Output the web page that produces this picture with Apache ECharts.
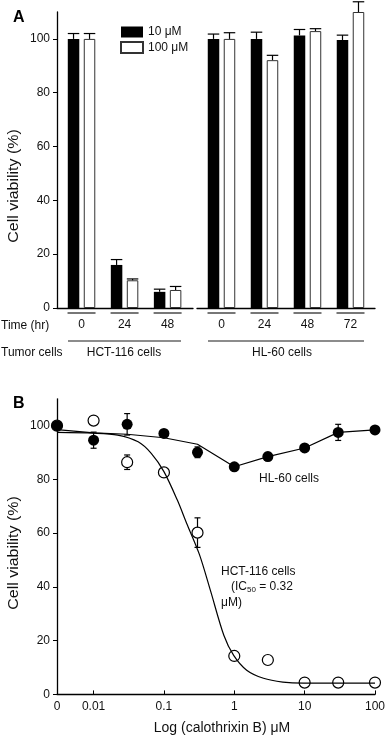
<!DOCTYPE html>
<html>
<head>
<meta charset="utf-8">
<script src="https://cdn.jsdelivr.net/npm/echarts@6/dist/echarts.min.js"></script>
<style>
  html, body { margin: 0; padding: 0; background: #fff; }
  #chart { width: 388px; height: 737px; }
</style>
</head>
<body>
<div id="chart"></div>
<script>
// panel A: viability after exposure (bars)
const hctTimes = ['0', '24', '48']
const hlTimes = ['0', '24', '48', '72']
const hct10 = [100, 16, 6]
const hct10Err = [2, 2, 1]
const hct100 = [100, 10.3, 6.7]
const hct100Err = [2, 0.5, 1.3]
const hl10 = [100, 100, 101.3, 99.6]
const hl10Err = [1.8, 2.5, 2.2, 1.8]
const hl100 = [100, 92.1, 102.9, 110]
const hl100Err = [2.3, 1.8, 0.9, 3.8]

// panel B: dose response, doses in µM
const doses = [0, 0.01, 0.03, 0.1, 0.3, 1, 3, 10, 30, 100]
const hlViab = [100, 94.6, 100.5, 97.1, 90.1, 84.7, 88.5, 91.7, 97.5, 98.4]
const hlErr = [0, 3, 4, 1, 2, 0, 1.5, 1, 3, 0]
const hctViab = [100, 101.9, 86.4, 82.6, 60.2, 14.3, 12.8, 4.4, 4.4, 4.4]
const hctErr = [0, 0, 2.7, 0, 5.5, 0, 0, 0, 0, 0]
const hlFit = [98.5, 97.3, 96.8, 95.5, 93.1, 84.7, 88.5, 91.7, 97.5, 98.4]
const hctFitDoses = [0, 0.01, 0.022, 0.043, 0.066, 0.1, 0.155, 0.21, 0.32, 0.46, 0.71, 0.98, 1.5, 2.6, 4.9, 9.5, 100]
const hctFit = [97.5, 97.2, 96.5, 94.0, 89.7, 82.9, 72.3, 63.7, 52, 38.5, 22, 14.5, 9, 6, 4.6, 4.2, 4.2]
const doseTickLabels = ['0', '0.01', '0.1', '1', '10', '100']

const FONT = '"Liberation Sans", Arial, Helvetica, sans-serif'
const INK = '#111'
const zeroPos = -2.52 // where the zero dose sits on the log axis
const tickPos = [zeroPos, -2, -1, 0, 1, 2]
const lx = (c) => (c > 0 ? Math.log10(c) : zeroPos)

const barW = 11.5
const pairShift = 8

const chart = echarts.init(document.getElementById('chart'), null, { renderer: 'canvas' })

const errLine = (l) => ({
  type: 'line',
  shape: { x1: l[0], y1: l[1], x2: l[2], y2: l[3] },
  style: { stroke: '#000', lineWidth: 1.2 },
})

function errBars(xIdx, yIdx, xs, vals, errs, dx, capW, both) {
  return {
    type: 'custom',
    xAxisIndex: xIdx,
    yAxisIndex: yIdx,
    clip: false,
    silent: true,
    z: 3,
    data: vals.map((v, i) => [xs[i], v, errs[i]]).filter((d) => d[2] > 0),
    renderItem: (params, api) => {
      const x = api.value(0)
      const y = api.value(1)
      const e = api.value(2)
      const top = api.coord([x, y + e])
      const bot = api.coord([x, both ? y - e : y])
      const cx = top[0] + dx
      const lines = [
        [cx, top[1], cx, bot[1]],
        [cx - capW / 2, top[1], cx + capW / 2, top[1]],
      ]
      if (both) lines.push([cx - capW / 2, bot[1], cx + capW / 2, bot[1]])
      return { type: 'group', children: lines.map(errLine) }
    },
  }
}

const timeAxis = (grid, times, max) => ({
  type: 'value',
  gridIndex: grid,
  min: -0.57,
  max,
  splitLine: { show: false },
  axisTick: { show: false },
  axisLine: { onZero: false, lineStyle: { color: '#000', width: 1.3 } },
  axisLabel: {
    customValues: times.map((t, i) => i),
    margin: 4,
    formatter: (v) => `{u|}\n{t|${times[Math.round(v)]}}`,
    rich: {
      u: { width: 28, height: 2, lineHeight: 2, backgroundColor: '#777' },
      t: { fontSize: 12, lineHeight: 22, color: INK, fontFamily: FONT },
    },
  },
})

const yTicks = [0, 20, 40, 60, 80, 100]
const viabAxis = (grid, show) => ({
  type: 'value',
  gridIndex: grid,
  show,
  min: 0,
  max: 110,
  splitLine: { show: false },
  axisLine: { show: true, onZero: false, lineStyle: { color: '#000', width: 1.3 } },
  axisTick: { show: true, length: 4, customValues: yTicks, lineStyle: { color: '#000' } },
  axisLabel: { customValues: yTicks, margin: 7, fontSize: 12, color: INK, fontFamily: FONT },
})

const bar = (name, xIdx, vals, style) => ({
  type: 'bar',
  name,
  xAxisIndex: xIdx,
  yAxisIndex: xIdx,
  data: vals.map((v, i) => [i, v]),
  barWidth: barW,
  barGap: '39%',
  itemStyle: style,
  z: 2,
})
const black = { color: '#000' }
const white = { color: '#fff', borderColor: '#333', borderWidth: 1 }

const plainText = (text, x, y, extra) => ({
  type: 'text',
  x,
  y,
  silent: true,
  style: Object.assign({ text, fill: INK, fontSize: 12, fontFamily: FONT, verticalAlign: 'middle' }, extra),
})
const hline = (x1, x2, y) => ({
  type: 'line',
  silent: true,
  shape: { x1, y1: y, x2, y2: y },
  style: { stroke: '#666', lineWidth: 1.5 },
})
const vTitle = (x, y) => ({
  type: 'text',
  x,
  y,
  rotation: Math.PI / 2,
  scaleX: 1.14,
  silent: true,
  style: { text: 'Cell viability (%)', fill: INK, fontSize: 14, fontFamily: FONT, align: 'center', verticalAlign: 'middle' },
})

const option = {
  animation: false,
  backgroundColor: '#fff',
  textStyle: { fontFamily: FONT },
  legend: {
    data: ['10 μM', '100 μM'],
    orient: 'vertical',
    left: 115,
    top: 21,
    icon: 'rect',
    itemWidth: 22,
    itemHeight: 11,
    itemGap: 3,
    textStyle: { fontSize: 12, color: INK, fontFamily: FONT },
  },
  grid: [
    { left: 57, top: 12, width: 136, height: 296 },
    { left: 197, top: 12, width: 178, height: 296 },
    { left: 57, top: 398.8, width: 321.3, height: 295.6 },
  ],
  xAxis: [
    timeAxis(0, hctTimes, 2.59),
    timeAxis(1, hlTimes, 3.57),
    {
      type: 'value',
      gridIndex: 2,
      min: zeroPos,
      max: 2,
      splitLine: { show: false },
      axisLine: { onZero: false, lineStyle: { color: '#000', width: 1.3 } },
      axisTick: { inside: true, length: 4, customValues: tickPos.slice(1), lineStyle: { color: '#000' } },
      axisLabel: {
        customValues: tickPos,
        margin: 6,
        fontSize: 12,
        color: INK,
        fontFamily: FONT,
        formatter: (v) => doseTickLabels[tickPos.findIndex((t) => Math.abs(t - v) < 1e-6)],
      },
    },
  ],
  yAxis: [viabAxis(0, true), viabAxis(1, false), viabAxis(2, true)],
  series: [
    bar('10 μM', 0, hct10, black),
    bar('100 μM', 0, hct100, white),
    bar('10 μM', 1, hl10, black),
    bar('100 μM', 1, hl100, white),
    errBars(0, 0, [0, 1, 2], hct10, hct10Err, -pairShift, barW, false),
    errBars(0, 0, [0, 1, 2], hct100, hct100Err, pairShift, barW, false),
    errBars(1, 1, [0, 1, 2, 3], hl10, hl10Err, -pairShift, barW, false),
    errBars(1, 1, [0, 1, 2, 3], hl100, hl100Err, pairShift, barW, false),
    // panel B
    errBars(2, 2, doses.map(lx), hctViab, hctErr, 0, 6, true),
    errBars(2, 2, doses.map(lx), hlViab, hlErr, 0, 6, true),
    {
      type: 'scatter',
      name: 'HCT-116',
      xAxisIndex: 2,
      yAxisIndex: 2,
      symbol: 'circle',
      symbolSize: 11,
      clip: false,
      data: doses.map((d, i) => [lx(d), hctViab[i]]),
      itemStyle: { color: '#fff', borderColor: '#000', borderWidth: 1.2, opacity: 1 },
      z: 4,
    },
    {
      type: 'scatter',
      name: 'HL-60',
      xAxisIndex: 2,
      yAxisIndex: 2,
      symbol: 'circle',
      symbolSize: 11,
      clip: false,
      data: doses.map((d, i) => [lx(d), hlViab[i]]),
      itemStyle: { color: '#000', opacity: 1 },
      z: 5,
    },
    {
      type: 'line',
      name: 'HL-60 fit',
      xAxisIndex: 2,
      yAxisIndex: 2,
      showSymbol: false,
      data: doses.map((d, i) => [lx(d), hlFit[i]]),
      lineStyle: { color: '#000', width: 1.2 },
      z: 6,
    },
    {
      type: 'line',
      name: 'HCT-116 fit',
      xAxisIndex: 2,
      yAxisIndex: 2,
      showSymbol: false,
      smooth: 0.3,
      data: hctFitDoses.map((d, i) => [lx(d), hctFit[i]]),
      lineStyle: { color: '#000', width: 1.2 },
      z: 6,
    },
  ],
  graphic: [
    plainText('A', 13, 18, { fontSize: 16, fontWeight: 'bold', fill: '#000' }),
    plainText('B', 13, 404, { fontSize: 16, fontWeight: 'bold', fill: '#000' }),
    vTitle(14, 186),
    vTitle(14, 553),
    plainText('Time (hr)', 1, 326),
    plainText('Tumor cells', 1, 353),
    hline(68, 181, 341),
    hline(208, 364, 341),
    plainText('HCT-116 cells', 124, 353, { align: 'center' }),
    plainText('HL-60 cells', 282, 353, { align: 'center' }),
    plainText('HL-60 cells', 259, 479),
    plainText('HCT-116 cells', 221, 572),
    plainText('(IC{s|50} = 0.32', 231, 587, { rich: { s: { fontSize: 8, verticalAlign: 'bottom', padding: [5, 0, 0, 0], fill: INK, fontFamily: FONT } } }),
    plainText('μM)', 221, 603),
    plainText('Log (calothrixin B) μM', 222, 728, { fontSize: 14, align: 'center' }),
  ],
}

chart.setOption(option)
</script>
</body>
</html>
